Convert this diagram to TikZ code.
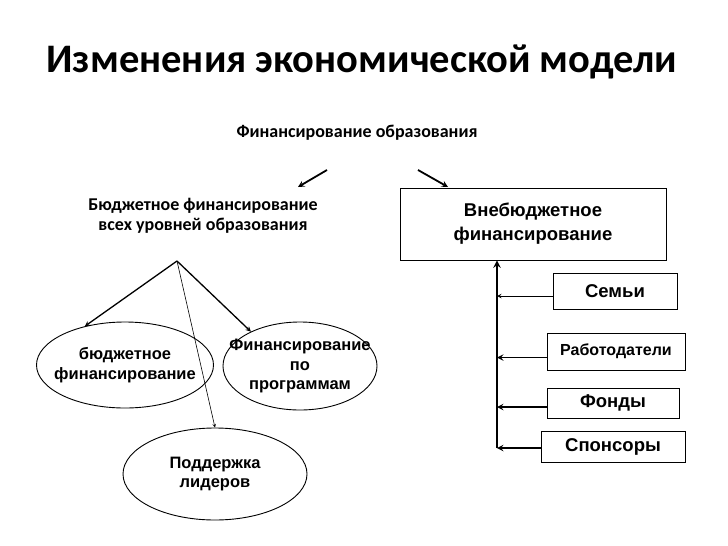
\documentclass[tikz,border=0pt]{standalone}
\usepackage{fontspec}
\setmainfont{Carlito}
\newfontfamily\arialfont{Liberation Sans}
\usepackage{tikz}
\usetikzlibrary{shapes.geometric, arrows}
\usetikzlibrary{calc}
\tikzstyle{heading} = [font=\bfseries\fontsize{40.5}{44}\selectfont]
\tikzstyle{caption} = [font=\bfseries\fontsize{18}{20}\selectfont, align=center]
\tikzstyle{box} = [rectangle, draw=black, line width=0.9pt, align=center, font=\arialfont\bfseries\fontsize{18.5}{24}\selectfont]
\tikzstyle{oval} = [ellipse, draw=black, line width=0.9pt, inner sep=-18pt, align=center, font=\arialfont\bfseries\fontsize{16.5}{19.5}\selectfont]
\tikzstyle{arrow} = [line width=1.8pt,->,>=stealth]
\tikzstyle{thinarrow} = [line width=0.6pt,->,>=stealth]

\begin{document}
\begin{tikzpicture}[x=1pt,y=-1pt]
\useasboundingbox (0,0) rectangle (728,546);

\node (title) [heading] at (362,62) {Изменения экономической модели};
\node (fin) [caption] at (357,133) {Финансирование образования};
\node (budall) [caption] at (203,216) {Бюджетное финансирование\\всех уровней образования};

\node (vneb) [box, minimum width=266pt, minimum height=72pt] at (533,224) {Внебюджетное\\финансирование};
\node (semi) [box, minimum width=124pt, minimum height=36pt] at (615,291) {Семьи};
\node (rabot) [box, minimum width=138pt, minimum height=37pt, font=\arialfont\bfseries\fontsize{16}{19}\selectfont] at (616,351.5) {Работодатели};
\node (fondy) [box, minimum width=132pt, minimum height=30pt] at (613,403) {Фонды};
\node (spons) [box, minimum width=144pt, minimum height=31pt] at (613,446.5) {Спонсоры};

\node (bud) [oval, minimum width=177pt, minimum height=86pt] at (125,365) {бюджетное\\финансирование};
\node (prog) [oval, minimum width=154pt, minimum height=88pt] at (300,366) {Финансирование\\по\\программам};
\node (lead) [oval, minimum width=184pt, minimum height=92pt] at (215,474) {Поддержка\\лидеров};

% arrows from the top caption
\coordinate (la) at (327,170);
\coordinate (lb) at (298,187);
\coordinate (ra) at (418,170);
\coordinate (rb) at (448,187);
\draw [arrow] (la) -- (lb);
\draw [arrow] (ra) -- (rb);

% budget branch
\coordinate (apex) at (177,261);
\draw [arrow, line width=1.3pt] (apex) -- (bud.136);
\draw [arrow, line width=1.3pt] (apex) -- (prog.145);
\draw [thinarrow] (apex) -- (lead.north);

% off-budget sources
\coordinate (vbot) at (497,448);
\draw [arrow, line width=2.2pt] (vbot) -- (vbot |- vneb.south);
\draw [thinarrow, line width=1pt] ([yshift=-5pt]semi.west) -- ([yshift=-5pt]semi.west -| vbot);
\draw [arrow] ([yshift=-6pt]rabot.west) -- ([yshift=-6pt]rabot.west -| vbot);
\draw [arrow] ([yshift=-4pt]fondy.west) -- ([yshift=-4pt]fondy.west -| vbot);
\draw [arrow] ([yshift=-1.5pt]spons.west) -- ([yshift=-1.5pt]spons.west -| vbot);

\end{tikzpicture}
\end{document}
